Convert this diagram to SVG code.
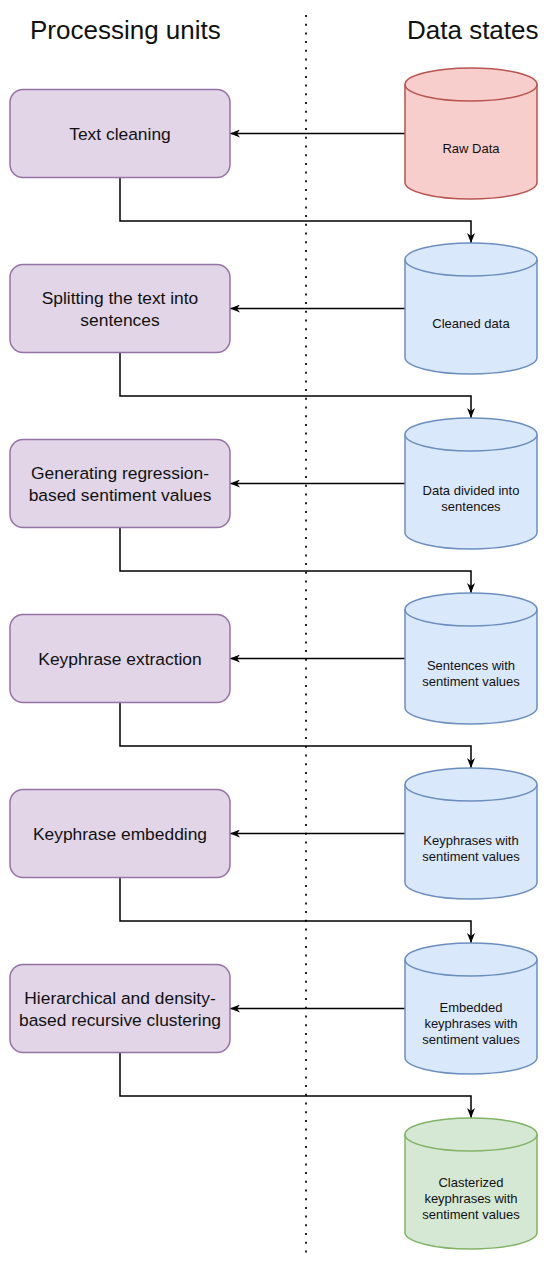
<svg xmlns="http://www.w3.org/2000/svg" width="550" height="1263" viewBox="0 0 550 1263">
<style>
text{font-family:"Liberation Sans",Arial,sans-serif;fill:#111;text-anchor:middle}
.hdr{font-size:26px;text-anchor:start}
.box{fill:#e1d5e7;stroke:#9673a6;stroke-width:1.5}
.bt{font-size:17.4px}
.ct{font-size:13px}
.cyl{stroke-width:1.5}
.lid{fill:none;stroke-width:1.5}
.blue{fill:#dae8fc;stroke:#6c8ebf}
.red{fill:#f8cecc;stroke:#b85450}
.green{fill:#d5e8d4;stroke:#82b366}
.lb{stroke:#6c8ebf}
.lr{stroke:#b85450}
.lg{stroke:#82b366}
.edge{fill:none;stroke:#000;stroke-width:1.5;marker-end:url(#arr)}
</style>
<defs>
<marker id="arr" viewBox="0 0 10 8" refX="10" refY="4" markerWidth="10" markerHeight="8" markerUnits="userSpaceOnUse" orient="auto">
<path d="M0,0 L10,4 L0,8 L3,4 Z" fill="#000"/>
</marker>
</defs>
<rect width="550" height="1263" fill="#fff"/>
<text class="hdr" x="30" y="39">Processing units</text>
<text class="hdr" x="407" y="39">Data states</text>
<line x1="306" y1="15" x2="306" y2="1254" stroke="#222" stroke-width="2" stroke-dasharray="2 6.7"/>

<g id="connectors">
<path class="edge" d="M405,133.5 L230,133.5"/>
<path class="edge" d="M405,308.5 L230,308.5"/>
<path class="edge" d="M405,483.5 L230,483.5"/>
<path class="edge" d="M405,658.5 L230,658.5"/>
<path class="edge" d="M405,833.5 L230,833.5"/>
<path class="edge" d="M405,1008.5 L230,1008.5"/>
<path class="edge" d="M120,177.5 V221 H471 V243"/>
<path class="edge" d="M120,352.5 V396 H471 V418"/>
<path class="edge" d="M120,527.5 V571 H471 V593"/>
<path class="edge" d="M120,702.5 V746 H471 V768"/>
<path class="edge" d="M120,877.5 V921 H471 V943"/>
<path class="edge" d="M120,1052.5 V1096 H471 V1118"/>
</g>

<g id="p1"><rect class="box" x="10" y="89.5" width="220" height="88" rx="13"/>
<text class="bt" x="120" y="139.5">Text cleaning</text></g>
<g id="p2"><rect class="box" x="10" y="264.5" width="220" height="88" rx="13"/>
<text class="bt" x="120" y="304">Splitting the text into</text><text class="bt" x="120" y="325.5">sentences</text></g>
<g id="p3"><rect class="box" x="10" y="439.5" width="220" height="88" rx="13"/>
<text class="bt" x="120" y="479">Generating regression-</text><text class="bt" x="120" y="500.5">based sentiment values</text></g>
<g id="p4"><rect class="box" x="10" y="614.5" width="220" height="88" rx="13"/>
<text class="bt" x="120" y="664.5">Keyphrase extraction</text></g>
<g id="p5"><rect class="box" x="10" y="789.5" width="220" height="88" rx="13"/>
<text class="bt" x="120" y="839.5">Keyphrase embedding</text></g>
<g id="p6"><rect class="box" x="10" y="964.5" width="220" height="88" rx="13"/>
<text class="bt" x="120" y="1004">Hierarchical and density-</text><text class="bt" x="120" y="1025.5">based recursive clustering</text></g>

<g id="d1" transform="translate(0,68)"><path class="cyl red" d="M405,16.5 A66,16.5 0 0 1 537,16.5 V114.5 A66,16.5 0 0 1 405,114.5 Z"/><path class="lid lr" d="M405,16.5 A66,16.5 0 0 0 537,16.5"/>
<text class="ct" x="471" y="85">Raw Data</text></g>
<g id="d2" transform="translate(0,243)"><path class="cyl blue" d="M405,16.5 A66,16.5 0 0 1 537,16.5 V114.5 A66,16.5 0 0 1 405,114.5 Z"/><path class="lid lb" d="M405,16.5 A66,16.5 0 0 0 537,16.5"/>
<text class="ct" x="471" y="85">Cleaned data</text></g>
<g id="d3" transform="translate(0,418)"><path class="cyl blue" d="M405,16.5 A66,16.5 0 0 1 537,16.5 V114.5 A66,16.5 0 0 1 405,114.5 Z"/><path class="lid lb" d="M405,16.5 A66,16.5 0 0 0 537,16.5"/>
<text class="ct" x="471" y="77">Data divided into</text><text class="ct" x="471" y="93">sentences</text></g>
<g id="d4" transform="translate(0,593)"><path class="cyl blue" d="M405,16.5 A66,16.5 0 0 1 537,16.5 V114.5 A66,16.5 0 0 1 405,114.5 Z"/><path class="lid lb" d="M405,16.5 A66,16.5 0 0 0 537,16.5"/>
<text class="ct" x="471" y="77">Sentences with</text><text class="ct" x="471" y="93">sentiment values</text></g>
<g id="d5" transform="translate(0,768)"><path class="cyl blue" d="M405,16.5 A66,16.5 0 0 1 537,16.5 V114.5 A66,16.5 0 0 1 405,114.5 Z"/><path class="lid lb" d="M405,16.5 A66,16.5 0 0 0 537,16.5"/>
<text class="ct" x="471" y="77">Keyphrases with</text><text class="ct" x="471" y="93">sentiment values</text></g>
<g id="d6" transform="translate(0,943)"><path class="cyl blue" d="M405,16.5 A66,16.5 0 0 1 537,16.5 V114.5 A66,16.5 0 0 1 405,114.5 Z"/><path class="lid lb" d="M405,16.5 A66,16.5 0 0 0 537,16.5"/>
<text class="ct" x="471" y="69">Embedded</text><text class="ct" x="471" y="85">keyphrases with</text><text class="ct" x="471" y="101">sentiment values</text></g>
<g id="d7" transform="translate(0,1118)"><path class="cyl green" d="M405,16.5 A66,16.5 0 0 1 537,16.5 V114.5 A66,16.5 0 0 1 405,114.5 Z"/><path class="lid lg" d="M405,16.5 A66,16.5 0 0 0 537,16.5"/>
<text class="ct" x="471" y="69">Clasterized</text><text class="ct" x="471" y="85">keyphrases with</text><text class="ct" x="471" y="101">sentiment values</text></g>
</svg>
